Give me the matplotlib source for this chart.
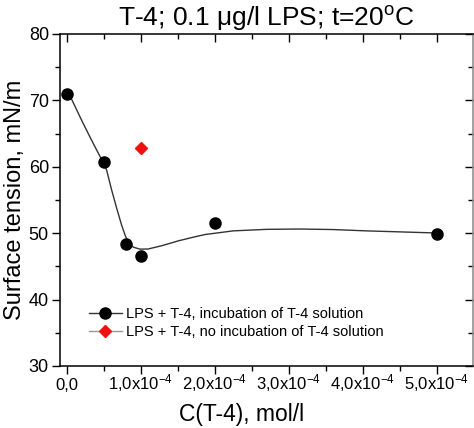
import matplotlib
matplotlib.use("Agg")
import matplotlib.pyplot as plt
from matplotlib.lines import Line2D
from matplotlib.ticker import MultipleLocator

plt.rcParams['font.family'] = ['Liberation Sans', 'DejaVu Sans']
plt.rcParams['mathtext.fontset'] = 'custom'
plt.rcParams['mathtext.rm'] = 'Liberation Sans'
plt.rcParams['mathtext.it'] = 'Liberation Sans:italic'
plt.rcParams['mathtext.default'] = 'regular'

# --- data ---
conc_inc = [0.0, 0.5e-4, 0.8e-4, 1.0e-4, 2.0e-4, 5.0e-4]
tension_inc = [71.0, 60.7, 48.4, 46.6, 51.6, 49.9]

conc_noinc = [1.0e-4]
tension_noinc = [62.9]

# smooth curve drawn through the data in the original
curve_x = [0.0, 0.07e-4, 0.22e-4, 0.36e-4, 0.50e-4, 0.54e-4, 0.608e-4, 0.676e-4,
           0.743e-4, 0.788e-4, 0.832e-4, 0.90e-4, 0.99e-4, 1.10e-4, 1.28e-4,
           1.51e-4, 1.73e-4, 1.87e-4, 2.25e-4, 2.7e-4, 3.15e-4, 3.6e-4, 4.05e-4,
           4.5e-4, 5.0e-4]
curve_y = [71.0, 70.1, 66.6, 63.5, 60.5, 59.5, 56.5, 53.75,
           51.2, 49.75, 48.6, 47.9, 47.6, 47.62, 48.1,
           48.85, 49.45, 49.8, 50.35, 50.58, 50.63, 50.55, 50.35,
           50.2, 50.03]

xticks = [0.0, 1e-4, 2e-4, 3e-4, 4e-4, 5e-4]
xtick_labels = ["0,0", "1,0x10$^{-4}$", "2,0x10$^{-4}$", "3,0x10$^{-4}$",
                "4,0x10$^{-4}$", "5,0x10$^{-4}$"]
yticks = [30, 40, 50, 60, 70, 80]

fig = plt.figure(figsize=(4.74, 4.28), dpi=100)
ax = fig.add_axes([60 / 474, 1 - 366 / 428, 413 / 474, 332 / 428])

ax.plot(curve_x, curve_y, color='#333333', linewidth=1.0, zorder=2,
        solid_joinstyle='round')
ax.plot(conc_inc, tension_inc, 'o', color='black', markersize=8, zorder=3)
ax.plot(conc_noinc, tension_noinc, 'D', color='#ee1111', markersize=6.5, zorder=3)

ax.set_xlim(-0.09e-4, 5.49e-4)
ax.set_ylim(30, 80)
ax.set_xticks(xticks)
ax.set_xticklabels(xtick_labels)
ax.set_yticks(yticks)
ax.xaxis.set_minor_locator(MultipleLocator(0.5e-4))
ax.yaxis.set_minor_locator(MultipleLocator(5))

ax.tick_params(which='both', width=1, colors='black')
ax.tick_params(axis='x', labelsize=12, pad=11)
ax.tick_params(axis='y', labelsize=13, pad=2)
ax.tick_params(which='major', length=6)
ax.tick_params(which='minor', length=3.5)
ax.tick_params(which='both', top=True, right=True)
# top/right ticks point inward, left/bottom outward
for t in ax.xaxis.get_major_ticks() + ax.xaxis.get_minor_ticks():
    t.tick2line.set_marker(3)
for t in ax.yaxis.get_major_ticks() + ax.yaxis.get_minor_ticks():
    t.tick2line.set_marker(0)
# keep all x labels on one baseline
for lbl in ax.get_xticklabels():
    lbl.set_verticalalignment('baseline')

for s in ax.spines.values():
    s.set_linewidth(1.1)
ax.spines['right'].set_color('#888888')

ax.set_title("T-4; 0.1 \u03bcg/l LPS; t=20$^{o}$C", fontsize=19, pad=6)
ax.set_xlabel("C(T-4), mol/l", fontsize=16.5)
ax.xaxis.set_label_coords(0.44, -0.112)
ax.set_ylabel("Surface tension, mN/m", fontsize=17, labelpad=2)

handles = [
    Line2D([], [], color='#333333', linewidth=1, marker='o', markersize=8,
           markerfacecolor='black', markeredgecolor='black'),
    Line2D([], [], color='#999999', linewidth=1, marker='D', markersize=6.5,
           markerfacecolor='#ee1111', markeredgecolor='#ee1111'),
]
labels = ["LPS + T-4, incubation of T-4 solution",
          "LPS + T-4, no incubation of T-4 solution"]
ax.legend(handles, labels, loc='upper left', bbox_to_anchor=(0.07, 0.177),
          frameon=False, fontsize=10.5, handlelength=2.25, handletextpad=0.3,
          labelspacing=0.25, borderaxespad=0, borderpad=0)

fig.savefig("out.png", dpi=100)
